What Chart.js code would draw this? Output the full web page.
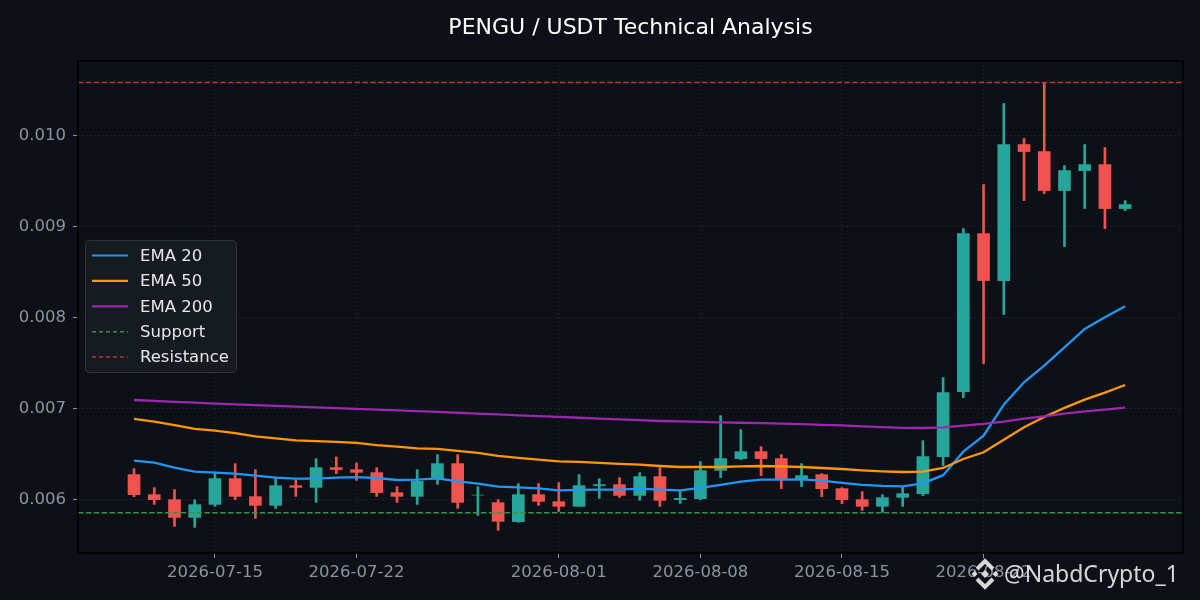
<!DOCTYPE html>
<html>
<head>
<meta charset="utf-8">
<script src="https://cdn.jsdelivr.net/npm/chart.js@4"></script>
<style>
  html, body { margin: 0; padding: 0; background: #0d1117; }
  canvas { display: block; }
</style>
</head>
<body>
<canvas id="chart" width="1200" height="600"></canvas>
<script>
// daily candles, day 0 = 2026-07-11
const OPEN = [
  0.006275, 0.006055, 0.006000, 0.005805, 0.005948, 0.006231, 0.006033, 0.005937, 0.006154, 0.006135,
  0.006352, 0.006330, 0.006297, 0.006077, 0.006036, 0.006227, 0.006396, 0.006050, 0.005967, 0.005758,
  0.006055, 0.005978, 0.005927, 0.006154, 0.006165, 0.006047, 0.006253, 0.006000, 0.006011, 0.006322,
  0.006451, 0.006527, 0.006451, 0.006220, 0.006275, 0.006121, 0.006000, 0.005927, 0.006025, 0.006066,
  0.006473, 0.007187, 0.008923, 0.008407, 0.009901, 0.009824, 0.009396, 0.009615, 0.009681, 0.009198
];
const HIGH = [
  0.006341, 0.006132, 0.006110, 0.006000, 0.006305, 0.006396, 0.006330, 0.006249, 0.006220, 0.006451,
  0.006469, 0.006403, 0.006352, 0.006143, 0.006330, 0.006495, 0.006495, 0.006143, 0.006000, 0.006176,
  0.006176, 0.006187, 0.006275, 0.006231, 0.006242, 0.006297, 0.006352, 0.006091, 0.006418, 0.006923,
  0.006769, 0.006582, 0.006495, 0.006396, 0.006286, 0.006132, 0.006088, 0.006055, 0.006143, 0.006648,
  0.007341, 0.008978, 0.009462, 0.010352, 0.009967, 0.010582, 0.009670, 0.009901, 0.009868, 0.009286
];
const LOW = [
  0.006033, 0.005948, 0.005707, 0.005696, 0.005926, 0.006000, 0.005795, 0.005904, 0.006036, 0.005970,
  0.006286, 0.006212, 0.006036, 0.005970, 0.005948, 0.006168, 0.005904, 0.005827, 0.005663, 0.005751,
  0.005937, 0.005871, 0.005927, 0.006014, 0.006025, 0.005992, 0.005926, 0.005959, 0.006000, 0.006242,
  0.006440, 0.006264, 0.006121, 0.006143, 0.006033, 0.005956, 0.005882, 0.005860, 0.005926, 0.006044,
  0.006374, 0.007121, 0.007495, 0.008033, 0.009286, 0.009363, 0.008780, 0.009198, 0.008978, 0.009176
];
const CLOSE = [
  0.006055, 0.006000, 0.005805, 0.005945, 0.006231, 0.006036, 0.005937, 0.006154, 0.006135, 0.006352,
  0.006330, 0.006300, 0.006077, 0.006036, 0.006201, 0.006396, 0.005970, 0.006050, 0.005762, 0.006055,
  0.005981, 0.005927, 0.006154, 0.006165, 0.006047, 0.006253, 0.005992, 0.006014, 0.006319, 0.006451,
  0.006527, 0.006451, 0.006223, 0.006264, 0.006121, 0.006000, 0.005927, 0.006022, 0.006066, 0.006473,
  0.007176, 0.008923, 0.008407, 0.009901, 0.009824, 0.009396, 0.009615, 0.009681, 0.009198, 0.009242
];

const EMA20 = [
  0.006429, 0.006407, 0.006352, 0.006308, 0.006297, 0.006286, 0.006264, 0.006242, 0.006231, 0.006231,
  0.006242, 0.006247, 0.006238, 0.006216, 0.006220, 0.006234, 0.006201, 0.006176, 0.006143, 0.006135,
  0.006124, 0.006102, 0.006107, 0.006110, 0.006110, 0.006121, 0.006110, 0.006102, 0.006129, 0.006162,
  0.006198, 0.006220, 0.006220, 0.006223, 0.006209, 0.006184, 0.006162, 0.006151, 0.006146, 0.006179,
  0.006269, 0.006527, 0.006703, 0.007044, 0.007289, 0.007473, 0.007674, 0.007876, 0.008003, 0.008124
];
const EMA50 = [
  0.006887, 0.006857, 0.006819, 0.006777, 0.006758, 0.006731, 0.006696, 0.006674, 0.006652, 0.006643,
  0.006634, 0.006623, 0.006599, 0.006582, 0.006564, 0.006557, 0.006535, 0.006513, 0.006480, 0.006458,
  0.006440, 0.006421, 0.006414, 0.006403, 0.006392, 0.006385, 0.006370, 0.006359, 0.006359, 0.006359,
  0.006366, 0.006370, 0.006366, 0.006359, 0.006348, 0.006337, 0.006322, 0.006311, 0.006304, 0.006308,
  0.006348, 0.006447, 0.006520, 0.006659, 0.006795, 0.006909, 0.007008, 0.007099, 0.007176, 0.007260
];
const EMA200 = [
  0.007095, 0.007085, 0.007075, 0.007065, 0.007055, 0.007047, 0.007038, 0.007030, 0.007022, 0.007014,
  0.007005, 0.006997, 0.006989, 0.006981, 0.006972, 0.006964, 0.006955, 0.006946, 0.006937, 0.006927,
  0.006918, 0.006909, 0.006900, 0.006891, 0.006882, 0.006873, 0.006864, 0.006859, 0.006855, 0.006850,
  0.006845, 0.006840, 0.006835, 0.006829, 0.006822, 0.006816, 0.006806, 0.006797, 0.006789, 0.006787,
  0.006795, 0.006813, 0.006832, 0.006857, 0.006890, 0.006915, 0.006945, 0.006970, 0.006989, 0.007011
];

const SUPPORT = 0.005857;
const RESISTANCE = 0.010582;

const TICK_DAYS = [4, 11, 21, 28, 35, 42];
const TICK_LABELS = ["2026-07-15", "2026-07-22", "2026-08-01", "2026-08-08", "2026-08-15", "2026-08-22"];
const Y_TICKS = [0.006, 0.007, 0.008, 0.009, 0.010];

const X_MIN = -2.77, X_MAX = 51.86;
const Y_MIN = 0.005414, Y_MAX = 0.010819;

const UP = "#26a69a";
const DOWN = "#ef5350";
const FONT = "DejaVu Sans";

const candleColors = CLOSE.map((c, i) => (c >= OPEN[i] ? UP : DOWN));
const wicks = LOW.map((l, i) => ({ x: i, y: [l, HIGH[i]] }));
const bodies = OPEN.map((o, i) => ({ x: i, y: [o, CLOSE[i]] }));
const line = (arr) => arr.map((v, i) => ({ x: i, y: v }));

const legendItems = [
  { label: "EMA 20", color: "#2196f3", dash: [] },
  { label: "EMA 50", color: "#ff9800", dash: [] },
  { label: "EMA 200", color: "#9c27b0", dash: [] },
  { label: "Support", color: "#3e8e43", dash: [4, 3] },
  { label: "Resistance", color: "#b8392f", dash: [4, 3] },
];

const decor = {
  id: "decor",
  beforeDraw(chart) {
    const ctx = chart.ctx;
    ctx.save();
    ctx.fillStyle = "#0d1117";
    ctx.fillRect(0, 0, chart.width, chart.height);
    ctx.restore();
  },
  afterDraw(chart) {
    const ctx = chart.ctx;
    const a = chart.chartArea;
    ctx.save();

    // frame (top / right spines)
    ctx.strokeStyle = "#000000";
    ctx.lineWidth = 1.5;
    ctx.strokeRect(a.left, a.top, a.right - a.left, a.bottom - a.top);

    // title
    ctx.fillStyle = "#ffffff";
    ctx.font = `22px "${FONT}"`;
    ctx.textAlign = "center";
    ctx.textBaseline = "middle";
    ctx.fillText("PENGU / USDT Technical Analysis", (a.left + a.right) / 2, 28);

    // legend box
    const bx = 85.5, by = 240.5, bw = 151, bh = 132, r = 4;
    ctx.beginPath();
    ctx.moveTo(bx + r, by);
    ctx.arcTo(bx + bw, by, bx + bw, by + bh, r);
    ctx.arcTo(bx + bw, by + bh, bx, by + bh, r);
    ctx.arcTo(bx, by + bh, bx, by, r);
    ctx.arcTo(bx, by, bx + bw, by, r);
    ctx.closePath();
    ctx.fillStyle = "#161b22";
    ctx.fill();
    ctx.strokeStyle = "#30363d";
    ctx.lineWidth = 1;
    ctx.stroke();

    ctx.textAlign = "left";
    ctx.textBaseline = "middle";
    ctx.font = `16.5px "${FONT}"`;
    legendItems.forEach((it, i) => {
      const y = 255.5 + i * 25.4;
      ctx.strokeStyle = it.color;
      ctx.lineWidth = it.dash.length ? 1.5 : 2.2;
      ctx.setLineDash(it.dash);
      ctx.beginPath();
      ctx.moveTo(92, y);
      ctx.lineTo(128, y);
      ctx.stroke();
      ctx.setLineDash([]);
      ctx.fillStyle = "#e6e6e6";
      ctx.fillText(it.label, 140, y + 1);
    });

    // watermark
    const cx = 985, cy = 574;
    ctx.fillStyle = "rgba(225,225,225,0.95)";
    ctx.strokeStyle = "rgba(225,225,225,0.95)";
    ctx.lineWidth = 4;
    ctx.lineJoin = "miter";
    ctx.beginPath();
    ctx.moveTo(cx - 8, cy - 5); ctx.lineTo(cx, cy - 13); ctx.lineTo(cx + 8, cy - 5);
    ctx.stroke();
    ctx.beginPath();
    ctx.moveTo(cx - 8, cy + 5); ctx.lineTo(cx, cy + 13); ctx.lineTo(cx + 8, cy + 5);
    ctx.stroke();
    ctx.beginPath();
    ctx.moveTo(cx, cy - 4); ctx.lineTo(cx + 4, cy); ctx.lineTo(cx, cy + 4); ctx.lineTo(cx - 4, cy);
    ctx.closePath();
    ctx.fill();
    [-10.5, 10.5].forEach((dx) => {
      ctx.beginPath();
      ctx.moveTo(cx + dx, cy - 3); ctx.lineTo(cx + dx + 3, cy); ctx.lineTo(cx + dx, cy + 3); ctx.lineTo(cx + dx - 3, cy);
      ctx.closePath();
      ctx.fill();
    });
    ctx.font = `23px "Noto Sans"`;
    ctx.textAlign = "left";
    ctx.textBaseline = "alphabetic";
    ctx.fillText("@NabdCrypto_1", 1004, 582);

    ctx.restore();
  },
};

const tickFont = { family: FONT, size: 16.5 };

new Chart(document.getElementById("chart"), {
  data: {
    datasets: [
      {
        type: "bar",
        data: wicks,
        backgroundColor: candleColors,
        barThickness: 2,
        grouped: false,
        order: 6,
      },
      {
        type: "bar",
        data: bodies,
        backgroundColor: candleColors,
        barThickness: 12,
        grouped: false,
        order: 5,
      },
      {
        type: "line",
        data: [{ x: X_MIN, y: SUPPORT }, { x: X_MAX, y: SUPPORT }],
        borderColor: "#3e8e43",
        borderWidth: 1.6,
        borderDash: [5.5, 2.4],
        pointRadius: 0,
        order: 1,
      },
      {
        type: "line",
        data: [{ x: X_MIN, y: RESISTANCE }, { x: X_MAX, y: RESISTANCE }],
        borderColor: "#b8392f",
        borderWidth: 1.6,
        borderDash: [5.5, 2.4],
        pointRadius: 0,
        order: 0,
      },
      {
        type: "line",
        data: line(EMA20),
        borderColor: "#2196f3",
        borderWidth: 2.3,
        pointRadius: 0,
        tension: 0,
        order: 4,
      },
      {
        type: "line",
        data: line(EMA50),
        borderColor: "#ff9800",
        borderWidth: 2.3,
        pointRadius: 0,
        tension: 0,
        order: 3,
      },
      {
        type: "line",
        data: line(EMA200),
        borderColor: "#9c27b0",
        borderWidth: 2.3,
        pointRadius: 0,
        tension: 0,
        order: 2,
      },
    ],
  },
  options: {
    responsive: false,
    animation: false,
    devicePixelRatio: 1,
    layout: { padding: { top: 61, right: 17, left: 0, bottom: 0 } },
    plugins: {
      legend: { display: false },
      tooltip: { enabled: false },
      title: { display: false },
    },
    scales: {
      x: {
        type: "linear",
        min: X_MIN,
        max: X_MAX,
        offset: false,
        afterFit: (s) => { s.height = 47; },
        afterBuildTicks: (s) => { s.ticks = TICK_DAYS.map((v) => ({ value: v })); },
        ticks: {
          color: "#8b949e",
          font: tickFont,
          padding: 5,
          maxRotation: 0,
          autoSkip: false,
          callback: (v) => TICK_LABELS[TICK_DAYS.indexOf(v)],
        },
        grid: {
          offset: false,
          color: "#2c313a",
          lineWidth: 1,
          tickLength: 5,
          tickColor: "#8b949e",
          tickWidth: 1,
          tickBorderDash: [],
        },
        border: { color: "#000000", width: 1.5, dash: [1, 3] },
      },
      y: {
        type: "linear",
        min: Y_MIN,
        max: Y_MAX,
        afterFit: (s) => { s.width = 78; },
        afterBuildTicks: (s) => { s.ticks = Y_TICKS.map((v) => ({ value: v })); },
        ticks: {
          color: "#8b949e",
          font: tickFont,
          padding: 7,
          callback: (v) => v.toFixed(3),
        },
        grid: {
          color: "#2c313a",
          lineWidth: 1,
          tickLength: 5,
          tickColor: "#8b949e",
          tickWidth: 1,
          tickBorderDash: [],
        },
        border: { color: "#000000", width: 1.5, dash: [1, 3] },
      },
    },
  },
  plugins: [decor],
});
</script>
</body>
</html>
